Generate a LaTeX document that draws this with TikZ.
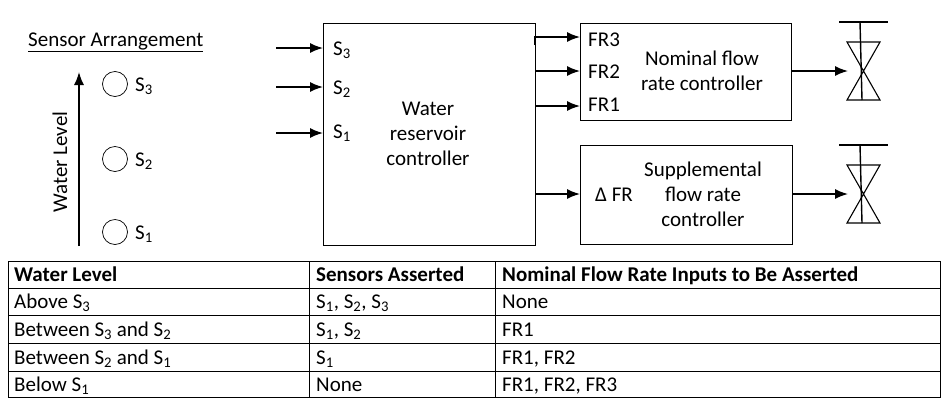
\documentclass[tikz,border=0pt]{standalone}
\usepackage{fontspec}
\setmainfont{Carlito}
\usetikzlibrary{arrows.meta}
\newcommand{\sub}[1]{\textsubscript{#1}}
\begin{document}
\begin{tikzpicture}[x=1pt,y=-1pt,font=\fontsize{21}{25}\selectfont,
  box/.style={draw,line width=0.9pt},
  arr/.style={-{Latex[length=13pt,width=10pt]},line width=1.5pt},
  lab/.style={anchor=west,inner sep=0pt},
  cell/.style={anchor=base west,inner sep=0pt},
  sens/.style={draw,circle,minimum size=25pt,inner sep=0pt,line width=0.7pt},
  valve/.style={line width=1.1pt}]
\useasboundingbox (0,0) rectangle (950,413);
% sensor arrangement
\node[anchor=west,inner sep=0pt] (title) at (28,42) {\underline{Sensor Arrangement}};
\coordinate (wb) at (79,246); \coordinate (wt) at (79,72);
\draw[arr] (wb) -- (wt);
\node[rotate=90] (wl) at (60,162) {Water Level};
\node[sens] (c3) at (115,84) {}; \node[lab] (l3) at (135,86) {S\sub{3}};
\node[sens] (c2) at (115,159) {}; \node[lab] (l2) at (135,161) {S\sub{2}};
\node[sens] (c1) at (115,232) {}; \node[lab] (l1) at (135,234) {S\sub{1}};
% reservoir controller
\draw[box] (323,23) rectangle (535,245);
\node[align=center,inner sep=0pt] (wrc) at (428,134) {Water\\reservoir\\controller};
\coordinate (i3) at (276,48); \coordinate (i2) at (276,87); \coordinate (i1) at (276,133);
\coordinate (e3) at (323,48); \coordinate (e2) at (323,87); \coordinate (e1) at (323,133);
\node[lab] (s3) at (333,50) {S\sub{3}};
\node[lab] (s2) at (333,89) {S\sub{2}};
\node[lab] (s1) at (333,133) {S\sub{1}};
\draw[arr] (i3) -- (e3);
\draw[arr] (i2) -- (e2);
\draw[arr] (i1) -- (e1);
% nominal
\draw[box] (580,23) rectangle (791,120);
\node[lab] (f3) at (588,40) {FR3};
\node[lab] (f2) at (588,72) {FR2};
\node[lab] (f1) at (588,105) {FR1};
\node[align=center,inner sep=0pt] (nom) at (702,71) {Nominal flow\\rate controller};
\coordinate (o3) at (535,45); \coordinate (o2) at (535,71); \coordinate (o1) at (535,106);
\coordinate (n3) at (580,37); \coordinate (n2) at (580,71); \coordinate (n1) at (580,106);
\draw[arr] (o3) -- (535,37) -- (n3);
\draw[arr] (o2) -- (n2);
\draw[arr] (o1) -- (n1);
% supplemental
\draw[box] (580,145) rectangle (792,244);
\node[lab] (df) at (595,195) {Δ FR};
\node[align=center,inner sep=0pt] (sup) at (703,194) {Supplemental\\flow rate\\controller};
\coordinate (od) at (535,194); \coordinate (nd) at (580,194);
\draw[arr] (od) -- (nd);
% valves
\foreach \n/\yo in {a/0,b/123}{
  \begin{scope}[yshift=-\yo pt]
  \coordinate (\n) at (848,71);
  \draw[valve,line width=2.2pt] (839,22) -- (888,22);
  \draw[valve,line width=1.4pt] (860,22) -- (862,100);
  \draw[valve] (847,42) -- (880,42) -- (847,100) -- (880,100) -- cycle;
  \end{scope}}
\coordinate (va) at (791,71); \coordinate (vb) at (792,194);
\draw[arr] (va) -- (a);
\draw[arr] (vb) -- (b);
% table
\draw[line width=1pt] (8,261) rectangle (940,397);
\foreach \y in {288,315,343,371} \draw[line width=0.8pt] (8,\y) -- (940,\y);
\foreach \x in {309,495} \draw[line width=0.8pt] (\x,261) -- (\x,397);
\foreach \r/\y/\a/\b/\c in {0/281/\textbf{Water Level}/\textbf{Sensors Asserted}/\textbf{Nominal Flow Rate Inputs to Be Asserted},
  1/308/Above S\sub{3}/{S\sub{1}, S\sub{2}, S\sub{3}}/None,
  2/336/Between S\sub{3} and S\sub{2}/{S\sub{1}, S\sub{2}}/FR1,
  3/364/Between S\sub{2} and S\sub{1}/S\sub{1}/{FR1, FR2},
  4/391/Below S\sub{1}/None/{FR1, FR2, FR3}}{
  \node[cell] (ta\r) at (14,\y) {\a};
  \node[cell] (tb\r) at (316,\y) {\b};
  \node[cell] (tc\r) at (502,\y) {\c};}
\end{tikzpicture}
\end{document}
